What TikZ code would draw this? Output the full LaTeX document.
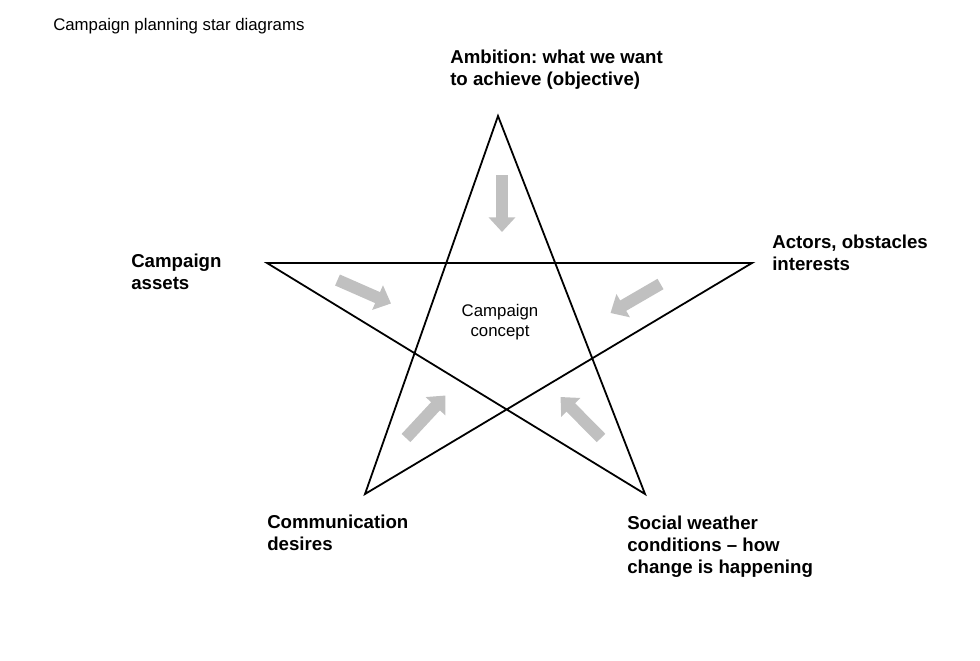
\documentclass[tikz,border=0pt]{standalone}
\usepackage{fontspec}
\setmainfont{Liberation Sans}
\usetikzlibrary{arrows.meta}
\definecolor{arrowgray}{RGB}{192,192,192}
\frenchspacing
\tikzset{
  starline/.style={line width=1.35pt, line join=miter, black},
  blockarrow/.style={draw=arrowgray, line width=9pt,
    -{Triangle[width=19.5pt,length=11pt]}},
  boldlabel/.style={anchor=north west, inner sep=0pt, align=left,
    font=\fontsize{14pt}{16.5pt}\selectfont\bfseries},
  plainlabel/.style={inner sep=0pt, font=\fontsize{12.6pt}{15pt}\selectfont}
}
\begin{document}
\begin{tikzpicture}[x=0.75pt,y=-0.75pt]
\useasboundingbox (0,0) rectangle (980,660);
% star vertices
\coordinate (T)  at (498,116);
\coordinate (L)  at (267,263);
\coordinate (R)  at (752,263);
\coordinate (BL) at (365,494);
\coordinate (BR) at (645,494);
\draw[starline] (T) -- (BL) -- (R) -- (L) -- (BR) -- cycle;
% arrows
\coordinate (a1s) at (502,175);  \coordinate (a1e) at (502,232);
\coordinate (a2s) at (337.5,280);\coordinate (a2e) at (391,303.5);
\coordinate (a3s) at (660.5,284);\coordinate (a3e) at (610.5,313);
\coordinate (a4s) at (406,438);  \coordinate (a4e) at (445.5,395.5);
\coordinate (a5s) at (601,438);  \coordinate (a5e) at (560.5,397);
\draw[blockarrow] (a1s) -- (a1e);
\draw[blockarrow] (a2s) -- (a2e);
\draw[blockarrow] (a3s) -- (a3e);
\draw[blockarrow] (a4s) -- (a4e);
\draw[blockarrow] (a5s) -- (a5e);
% texts
\node[plainlabel, anchor=north west] (title) at (53,18.5) {Campaign planning star diagrams};
\node[plainlabel, anchor=north, align=center] (concept) at (500,304.5) {Campaign\\concept};
\node[boldlabel] (ambition) at (450,49.8) {Ambition: what we want\\to achieve (objective)};
\node[boldlabel] (assets) at (131,254) {Campaign\\assets};
\node[boldlabel] (actors) at (772,234.5) {Actors, obstacles\\interests};
\node[boldlabel] (comm) at (267,514.5) {Communication\\desires};
\node[boldlabel] (social) at (627,515.5) {Social weather\\conditions -- how\\change is happening};
\end{tikzpicture}
\end{document}
